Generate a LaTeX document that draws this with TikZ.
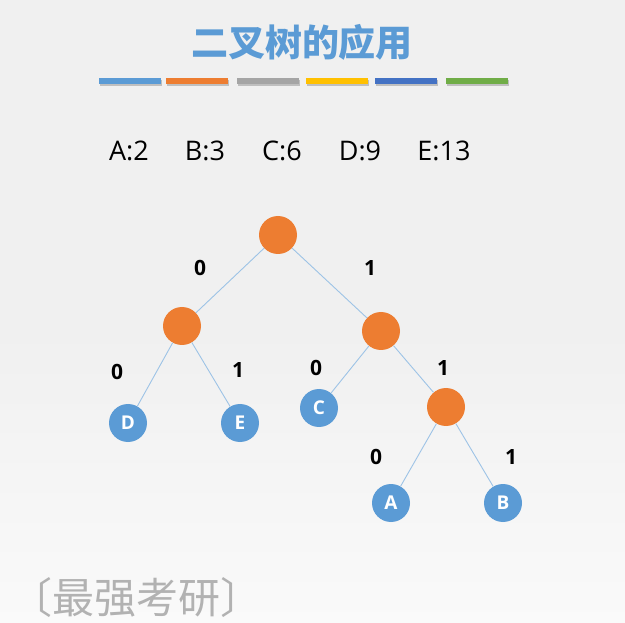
\documentclass[tikz,border=0pt]{standalone}
\usepackage{fontspec}
\setmainfont{Open Sans}
\newfontfamily\cjk{Noto Sans CJK SC}
\newfontfamily\cjkbold{Noto Sans CJK SC Black}
\definecolor{titleblue}{RGB}{91,155,213}
\definecolor{nodeorange}{RGB}{237,125,49}
\definecolor{leafblue}{RGB}{91,155,213}
\definecolor{edgeblue}{RGB}{157,195,230}
\definecolor{bargray}{RGB}{165,165,165}
\definecolor{baryellow}{RGB}{255,192,0}
\definecolor{bardark}{RGB}{68,114,196}
\definecolor{bargreen}{RGB}{112,173,71}
\usetikzlibrary{positioning}

\begin{document}
\begin{tikzpicture}[x=1pt, y=-1pt,
  inner/.style={circle, fill=nodeorange, minimum size=38pt, inner sep=0pt},
  leaf/.style={circle, fill=leafblue, minimum size=38pt, inner sep=0pt, text=white, font=\fontsize{19}{19}\selectfont\bfseries},
  bit/.style={font=\fontsize{21}{21}\selectfont\bfseries},
  branch/.style={draw=edgeblue, line width=0.9pt}]
  % Background
  \fill[black!6] (0,0) rectangle (625,320);
  \shade[top color=black!6, bottom color=black!2] (0,320) rectangle (625,623);
  \useasboundingbox (0,0) rectangle (625,623);

  % Title
  \node[text=titleblue, font=\cjkbold\fontsize{37}{37}\selectfont] (title) at (302,42) {二叉树的应用};
  \foreach \x/\c in {99/titleblue, 166/nodeorange, 237/bargray, 306/baryellow, 375/bardark, 446/bargreen} {
    \fill[black!25] (\x+1,80) rectangle (\x+63,86);
    \fill[\c] (\x,78) rectangle (\x+62,84);
  }

  % Weights
  \foreach \n/\t/\x in {wa/A:2/129, wb/B:3/205, wc/C:6/282, wd/D:9/360, we/E:13/444}
    \node[font=\fontsize{27}{27}\selectfont] (\n) at (\x,151) {\t};

  % Tree
  \node[inner] (root) at (278,235) {};
  \node[inner] (l) at (182,326) {};
  \node[inner] (r) at (381,331) {};
  \node[inner] (rr) at (446,407) {};
  \node[leaf] (D) at (128,423) {D};
  \node[leaf] (E) at (240,423) {E};
  \node[leaf] (C) at (319,408) {C};
  \node[leaf] (A) at (391,503) {A};
  \node[leaf] (B) at (503,503) {B};

  \draw[branch] (root) -- (l);
  \draw[branch] (root) -- (r);
  \draw[branch] (l) -- (D);
  \draw[branch] (l) -- (E);
  \draw[branch] (r) -- (C);
  \draw[branch] (r) -- (rr);
  \draw[branch] (rr) -- (A);
  \draw[branch] (rr) -- (B);

  % Codes
  \node[bit] (b1) at (200,268) {0};
  \node[bit] (b2) at (370,268) {1};
  \node[bit] (b3) at (117,372) {0};
  \node[bit] (b4) at (238,370) {1};
  \node[bit] (b5) at (316,368) {0};
  \node[bit] (b6) at (443,368) {1};
  \node[bit] (b7) at (376,457) {0};
  \node[bit] (b8) at (511,457) {1};

  % Watermark
  \node[text=black!30, font=\cjk\fontsize{42}{42}\selectfont, anchor=west, inner sep=0pt] (mark) at (10,598) {〔最强考研〕};
\end{tikzpicture}
\end{document}
